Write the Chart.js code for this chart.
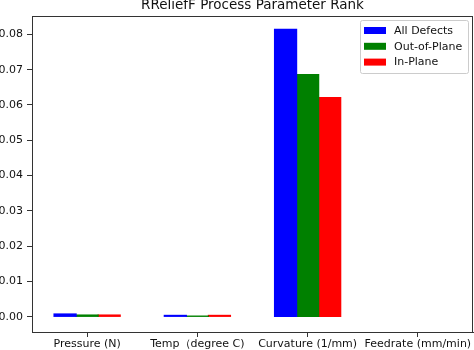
<!DOCTYPE html>
<html><head><meta charset="utf-8">
<script src="https://cdn.jsdelivr.net/npm/chart.js@4"></script>
<style>html,body{margin:0;padding:0;background:#fff}#w{width:474px;height:350px}</style>
</head><body><div id="w"><canvas id="c" width="474" height="350"></canvas></div>
<script>
const categories = ["Pressure (N)", "Temp\uFF08degree C)", "Curvature (1/mm)", "Feedrate (mm/min)"];
const seriesNames = ["All Defects", "Out-of-Plane", "In-Plane"];
const allDefects = [0.0008, 0.0004, 0.0814, 0.0];
const outOfPlane = [0.0005, 0.0002, 0.0686, 0.0];
const inPlane = [0.0005, 0.0004, 0.0621, 0.0];
const yTicks = [0.00, 0.01, 0.02, 0.03, 0.04, 0.05, 0.06, 0.07, 0.08];
const titleText = "RReliefF Process Parameter Rank";
const colors = ["#0000ff", "#008000", "#ff0000"];

const FONT = "'DejaVu Sans', sans-serif";

const framePlugin = {
  id: 'frame',
  afterDraw(chart) {
    const ctx = chart.ctx, a = chart.chartArea;
    ctx.save();
    ctx.strokeStyle = '#333';
    ctx.lineWidth = 1;
    ctx.strokeRect(Math.round(a.left) + 0.5, Math.round(a.top) + 0.5, Math.round(a.right - a.left) - 1, Math.round(a.bottom - a.top));
    // title
    ctx.fillStyle = '#111';
    ctx.font = "13.5px " + FONT;
    ctx.textAlign = 'center';
    ctx.textBaseline = 'alphabetic';
    ctx.fillText(titleText, (a.left + a.right) / 2, 9);
    // legend
    const bx = 360, by = 20, bw = 108, bh = 53;
    ctx.fillStyle = 'rgba(255,255,255,0.85)';
    ctx.strokeStyle = '#ccc';
    ctx.beginPath();
    if (ctx.roundRect) ctx.roundRect(bx + 0.5, by + 0.5, bw, bh, 2); else ctx.rect(bx + 0.5, by + 0.5, bw, bh);
    ctx.fill(); ctx.stroke();
    ctx.font = "11px " + FONT;
    ctx.textAlign = 'left';
    ctx.textBaseline = 'middle';
    chart.data.datasets.forEach((ds, i) => {
      const cy = 30.5 + i * 15.8;
      ctx.fillStyle = ds.backgroundColor;
      ctx.fillRect(364, cy - 3.5, 22, 7);
      ctx.fillStyle = '#111';
      ctx.fillText(ds.label, 394, cy + 0.5);
    });
    ctx.restore();
  }
};

new Chart(document.getElementById('c'), {
  type: 'bar',
  data: {
    labels: categories,
    datasets: [
      { label: seriesNames[0], data: allDefects, backgroundColor: colors[0] },
      { label: seriesNames[1], data: outOfPlane, backgroundColor: colors[1] },
      { label: seriesNames[2], data: inPlane, backgroundColor: colors[2] }
    ]
  },
  options: {
    responsive: false,
    animation: false,
    layout: { padding: { top: 16, right: 1, left: 0, bottom: 0 } },
    datasets: { bar: { categoryPercentage: 0.6, barPercentage: 1.0, borderWidth: 0,
      inflateAmount: c => (c.raw === 0 ? 0 : 0.6) } },
    plugins: { legend: { display: false }, title: { display: false }, tooltip: { enabled: false } },
    scales: {
      x: {
        grid: { display: true, offset: false, drawOnChartArea: false, drawTicks: true, tickLength: 5, color: '#333' },
        border: { display: true, color: '#333' },
        ticks: { color: '#111', font: { family: FONT, size: 11 }, padding: 1, maxRotation: 0, autoSkip: false },
        afterFit(s) { s.height = 18; }
      },
      y: {
        min: -0.0043, max: 0.0852,
        grid: { display: true, drawOnChartArea: false, drawTicks: true, tickLength: 5, color: '#333' },
        border: { display: true, color: '#333' },
        ticks: { color: '#111', font: { family: FONT, size: 11 }, padding: 4, callback: v => Number(v).toFixed(2) },
        afterBuildTicks(s) { s.ticks = yTicks.map(v => ({ value: v })); },
        afterFit(s) { s.width = 32; }
      }
    }
  },
  plugins: [framePlugin]
});
</script></body></html>
